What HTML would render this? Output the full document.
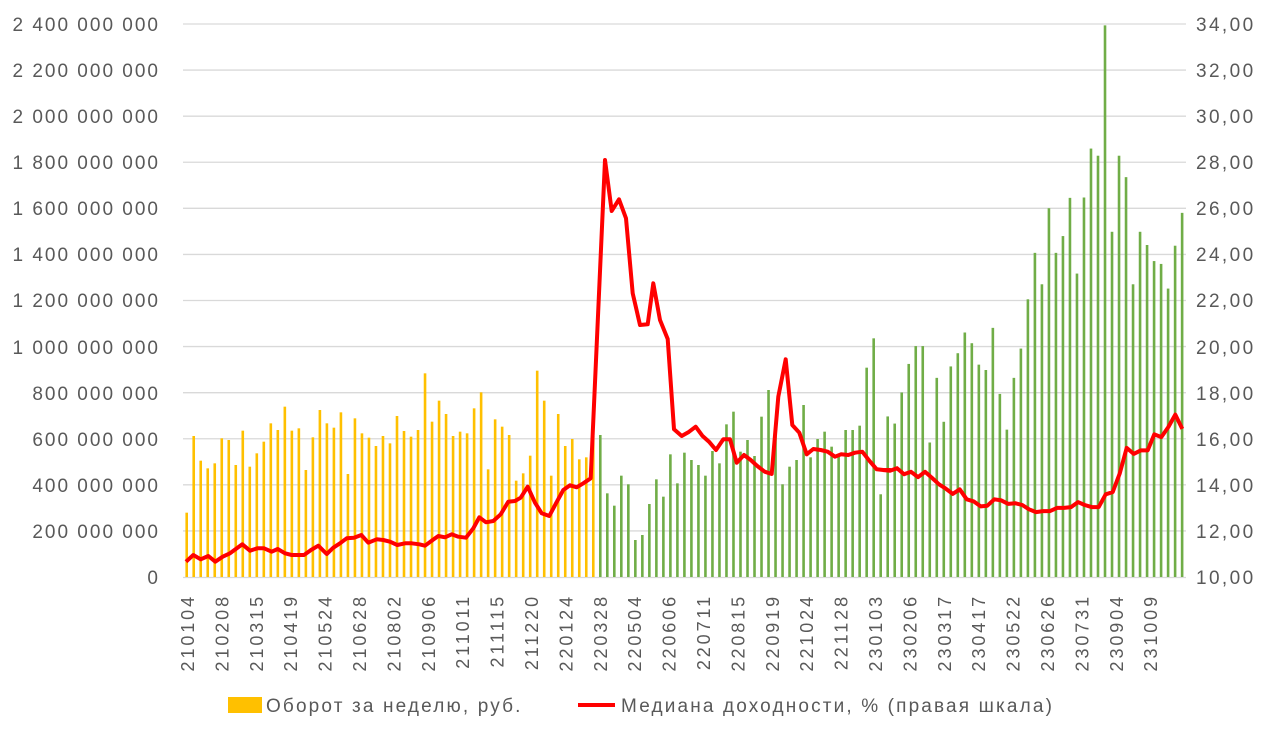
<!DOCTYPE html>
<html><head><meta charset="utf-8"><style>
html,body{margin:0;padding:0;background:#fff;}
svg{display:block;font-family:"Liberation Sans",sans-serif;}
.l{font-size:19px;fill:#595959;text-anchor:end;letter-spacing:2px;}
.r{font-size:19px;fill:#595959;text-anchor:start;letter-spacing:2.4px;}
.x{font-size:18px;fill:#595959;text-anchor:end;letter-spacing:2.9px;}
.lg{font-size:19px;fill:#595959;letter-spacing:2.15px;}
</style></head><body>
<svg id="s" width="1280" height="738" viewBox="0 0 1280 738">
<g id="grid" stroke="#d9d9d9" stroke-width="1.3"></g>
<g id="bars"></g>
<polyline id="red" fill="none" stroke="#ff0000" stroke-width="4" stroke-linejoin="round"/>
<g>
<text class="l" x="160" y="584">0</text>
<text class="l" x="160" y="538">200 000 000</text>
<text class="l" x="160" y="492">400 000 000</text>
<text class="l" x="160" y="446">600 000 000</text>
<text class="l" x="160" y="400">800 000 000</text>
<text class="l" x="160" y="354">1 000 000 000</text>
<text class="l" x="160" y="307">1 200 000 000</text>
<text class="l" x="160" y="261">1 400 000 000</text>
<text class="l" x="160" y="215">1 600 000 000</text>
<text class="l" x="160" y="169">1 800 000 000</text>
<text class="l" x="160" y="123">2 000 000 000</text>
<text class="l" x="160" y="77">2 200 000 000</text>
<text class="l" x="160" y="31">2 400 000 000</text>
<text class="r" x="1196" y="584">10,00</text>
<text class="r" x="1196" y="538">12,00</text>
<text class="r" x="1196" y="492">14,00</text>
<text class="r" x="1196" y="446">16,00</text>
<text class="r" x="1196" y="400">18,00</text>
<text class="r" x="1196" y="354">20,00</text>
<text class="r" x="1196" y="307">22,00</text>
<text class="r" x="1196" y="261">24,00</text>
<text class="r" x="1196" y="215">26,00</text>
<text class="r" x="1196" y="169">28,00</text>
<text class="r" x="1196" y="123">30,00</text>
<text class="r" x="1196" y="77">32,00</text>
<text class="r" x="1196" y="31">34,00</text>
</g>
<g>
<text class="x" transform="translate(194,594) rotate(-90)">210104</text>
<text class="x" transform="translate(228.4,594) rotate(-90)">210208</text>
<text class="x" transform="translate(262.8,594) rotate(-90)">210315</text>
<text class="x" transform="translate(297.2,594) rotate(-90)">210419</text>
<text class="x" transform="translate(331.6,594) rotate(-90)">210524</text>
<text class="x" transform="translate(366,594) rotate(-90)">210628</text>
<text class="x" transform="translate(400.4,594) rotate(-90)">210802</text>
<text class="x" transform="translate(434.8,594) rotate(-90)">210906</text>
<text class="x" transform="translate(469.2,594) rotate(-90)">211011</text>
<text class="x" transform="translate(503.6,594) rotate(-90)">211115</text>
<text class="x" transform="translate(538,594) rotate(-90)">211220</text>
<text class="x" transform="translate(572.4,594) rotate(-90)">220124</text>
<text class="x" transform="translate(606.8,594) rotate(-90)">220328</text>
<text class="x" transform="translate(641.2,594) rotate(-90)">220504</text>
<text class="x" transform="translate(675.6,594) rotate(-90)">220606</text>
<text class="x" transform="translate(710,594) rotate(-90)">220711</text>
<text class="x" transform="translate(744.4,594) rotate(-90)">220815</text>
<text class="x" transform="translate(778.8,594) rotate(-90)">220919</text>
<text class="x" transform="translate(813.2,594) rotate(-90)">221024</text>
<text class="x" transform="translate(847.6,594) rotate(-90)">221128</text>
<text class="x" transform="translate(882,594) rotate(-90)">230103</text>
<text class="x" transform="translate(916.4,594) rotate(-90)">230206</text>
<text class="x" transform="translate(950.8,594) rotate(-90)">230317</text>
<text class="x" transform="translate(985.2,594) rotate(-90)">230417</text>
<text class="x" transform="translate(1019.6,594) rotate(-90)">230522</text>
<text class="x" transform="translate(1054,594) rotate(-90)">230626</text>
<text class="x" transform="translate(1088.4,594) rotate(-90)">230731</text>
<text class="x" transform="translate(1122.8,594) rotate(-90)">230904</text>
<text class="x" transform="translate(1157.2,594) rotate(-90)">231009</text>
</g>
<rect x="228" y="697" width="34" height="16" fill="#ffc000"/>
<text class="lg" x="266" y="712">Оборот за неделю, руб.</text>
<line x1="578" y1="705" x2="615" y2="705" stroke="#ff0000" stroke-width="4"/>
<text class="lg" x="621" y="712">Медиана доходности, % (правая шкала)</text>
</svg>
<script>
var NS="http://www.w3.org/2000/svg";
var g=document.getElementById('grid');
for(var i=1;i<=12;i++){var y=577-i*46.083;var l=document.createElementNS(NS,'line');l.setAttribute('x1',183);l.setAttribute('x2',1186);l.setAttribute('y1',y);l.setAttribute('y2',y);g.appendChild(l);}
var l0=document.createElementNS(NS,'line');l0.setAttribute('x1',183);l0.setAttribute('x2',1186);l0.setAttribute('y1',577.5);l0.setAttribute('y2',577.5);l0.setAttribute('stroke','#d9d9d9');g.appendChild(l0);
var yel=[458,228,302,325,310,235,240,315,212,320,280,245,190,210,140,212,205,330,232,150,190,203,157,342,175,220,233,258,228,250,168,213,230,210,40,185,122,162,228,215,220,145,97,328,178,200,225,362,340,287,32,122,347,162,258,237,298,292,228].map(function(v){return 360+v/3;});
var gr2=[885,1060,1097,1007,1033,1200,1185,1092,1018,1070,943,1030,938,960,975,1007,933,970,853,815,935,900,948,830,750,883,1033,980,960,795,952,897,875,920,948,870,870,857,683,595].map(function(v){return 140+v/3;});
var gr3=[1328,1110,1130,1043,963,913,913,1183,1002,1125,970,933,875,905,965,980,862,1047,1147,1002,920,782,652,740,527,652,605,498,710,497,360,380,15,593,380,440,740,593,630,675,683,752,632,540].map(function(v){return 20+v/2.8;});
var tops=yel.concat(gr2,gr3);
var b=document.getElementById('bars');
for(var i=0;i<tops.length;i++){var x=186.7+i*7.01;var r=document.createElementNS(NS,'rect');r.setAttribute('x',x-1.3);r.setAttribute('width',2.6);r.setAttribute('y',tops[i]);r.setAttribute('height',577-tops[i]);r.setAttribute('fill',i<59?'#ffc000':'#70ad47');b.appendChild(r);}
var p1=[[18,605],[40,585],[62,598],[85,588],[106,605],[128,590],[150,580],[187,553],[210,572],[232,565],[252,565],[275,575],[293,567],[315,580],[335,585],[372,585],[393,570],[415,557],[440,582],[460,563],[480,550],[500,535],[522,533],[544,525],[565,548],[590,538],[610,540],[630,545],[652,555],[675,550],[695,550],[718,553],[735,557],[758,540],[775,528],[795,532],[815,523],[835,530],[858,533],[880,505],[898,472],[918,487],[940,483],[962,463],[985,425],[1005,423],[1022,413],[1043,380],[1065,428],[1085,460],[1108,468],[1128,430],[1150,390],[1170,376],[1190,382],[1210,370],[1232,355]].map(function(p){return [180+p[0]/3,360+p[1]/3];});
var p2=[[15,60],[35,213],[57,178],[78,235],[98,460],[120,555],[143,553],[160,430],[180,540],[203,597],[222,868],[245,888],[265,877],[287,860],[307,887],[327,905],[348,930],[370,898],[390,898],[410,968],[432,945],[452,960],[472,978],[494,995],[515,1002],[535,770],[557,658],[577,855],[598,878],[620,943],[640,927],[662,930],[683,935],[705,950],[723,943],[745,945],[765,938],[787,935],[808,962],[830,988],[850,990],[870,990]].map(function(p){return [600+p[0]/3,140+p[1]/3];});
var p3=[[8,1260],[30,1262],[51,1255],[72,1272],[93,1265],[114,1280],[135,1265],[156,1282],[177,1300],[197,1312],[218,1327],[239,1314],[260,1342],[281,1348],[302,1362],[322,1360],[343,1342],[364,1345],[385,1355],[406,1353],[427,1358],[447,1370],[468,1378],[489,1375],[510,1375],[531,1366],[552,1366],[573,1364],[594,1350],[614,1358],[635,1364],[656,1364],[677,1328],[698,1322],[719,1270],[740,1198],[761,1215],[782,1205],[803,1205],[823,1160],[844,1168],[865,1140],[886,1105],[907,1145]].map(function(p){return [880+p[0]/3,20+p[1]/2.8];});
var pts=p1.concat(p2,p3).map(function(p){return p[0].toFixed(1)+','+p[1].toFixed(1);}).join(' ');
document.getElementById('red').setAttribute('points',pts);
</script>
</body></html>
